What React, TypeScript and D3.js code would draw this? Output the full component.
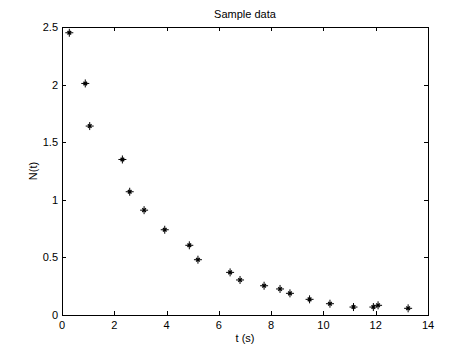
import React, { useEffect, useRef } from 'react';
import * as d3 from 'd3';

const tValues = [0.28, 0.89, 1.06, 2.31, 2.59, 3.14, 3.93, 4.87, 5.2, 6.43, 6.81, 7.73, 8.34, 8.72, 9.47, 10.25, 11.15, 11.91, 12.09, 13.24];
const nValues = [2.45, 2.01, 1.64, 1.35, 1.07, 0.91, 0.74, 0.605, 0.48, 0.37, 0.304, 0.254, 0.226, 0.188, 0.136, 0.098, 0.069, 0.069, 0.084, 0.058];
const xTicks = [0, 2, 4, 6, 8, 10, 12, 14];
const yTicks = [0, 0.5, 1, 1.5, 2, 2.5];

const App = () => {
  const svgRef = useRef<SVGSVGElement>(null);

  useEffect(() => {
    if (!svgRef.current) return;
    d3.select(svgRef.current).selectAll('*').remove();

    const width = 474;
    const height = 354;
    const left = 62, right = 428, top = 27, bottom = 315;
    const font = 'Arial, "Liberation Sans", sans-serif';

    const svg = d3.select(svgRef.current)
      .attr('width', width)
      .attr('height', height);

    svg.append('rect').attr('width', width).attr('height', height).attr('fill', '#ffffff');

    const x = d3.scaleLinear().domain([0, 14]).range([left, right]);
    const y = d3.scaleLinear().domain([0, 2.5]).range([bottom, top]);

    // box
    svg.append('rect')
      .attr('x', left).attr('y', top)
      .attr('width', right - left).attr('height', bottom - top)
      .attr('fill', 'none').attr('stroke', '#000').attr('stroke-width', 1)
      .attr('shape-rendering', 'crispEdges');

    const tickLen = 4;
    // x ticks (inward, bottom and top)
    xTicks.forEach(t => {
      const px = Math.round(x(t)) + 0.5;
      svg.append('line').attr('x1', px).attr('x2', px).attr('y1', bottom).attr('y2', bottom - tickLen)
        .attr('stroke', '#000').attr('shape-rendering', 'crispEdges');
      svg.append('line').attr('x1', px).attr('x2', px).attr('y1', top).attr('y2', top + tickLen)
        .attr('stroke', '#000').attr('shape-rendering', 'crispEdges');
      svg.append('text')
        .attr('x', x(t)).attr('y', bottom + 14)
        .attr('text-anchor', 'middle')
        .attr('font-family', font).attr('font-size', 11).attr('fill', '#000')
        .text(String(t));
    });

    // y ticks (inward, left and right)
    yTicks.forEach(v => {
      const py = Math.round(y(v)) + 0.5;
      svg.append('line').attr('x1', left).attr('x2', left + tickLen).attr('y1', py).attr('y2', py)
        .attr('stroke', '#000').attr('shape-rendering', 'crispEdges');
      svg.append('line').attr('x1', right).attr('x2', right - tickLen).attr('y1', py).attr('y2', py)
        .attr('stroke', '#000').attr('shape-rendering', 'crispEdges');
      svg.append('text')
        .attr('x', left - 4).attr('y', y(v) + 4)
        .attr('text-anchor', 'end')
        .attr('font-family', font).attr('font-size', 11).attr('fill', '#000')
        .text(String(v));
    });

    // star markers (MATLAB '*': plus with short diagonals)
    const s = 4;
    const d = 1.8;
    const marks = svg.append('g');
    tValues.forEach((t, i) => {
      const cx = x(t), cy = y(nValues[i]);
      const g = marks.append('g').attr('transform', `translate(${cx},${cy})`)
        .attr('stroke', '#000').attr('stroke-width', 1);
      g.append('line').attr('x1', -s).attr('x2', s).attr('y1', 0).attr('y2', 0);
      g.append('line').attr('x1', 0).attr('x2', 0).attr('y1', -s).attr('y2', s);
      g.append('line').attr('x1', -d).attr('x2', d).attr('y1', -d).attr('y2', d).attr('stroke-width', 1.4);
      g.append('line').attr('x1', -d).attr('x2', d).attr('y1', d).attr('y2', -d).attr('stroke-width', 1.4);
    });

    // title and labels
    svg.append('text')
      .attr('x', (left + right) / 2).attr('y', 18)
      .attr('text-anchor', 'middle')
      .attr('font-family', font).attr('font-size', 11).attr('fill', '#000')
      .text('Sample data');

    svg.append('text')
      .attr('x', (left + right) / 2).attr('y', 342)
      .attr('text-anchor', 'middle')
      .attr('font-family', font).attr('font-size', 11).attr('fill', '#000')
      .text('t (s)');

    svg.append('text')
      .attr('transform', `translate(37, ${(top + bottom) / 2}) rotate(-90)`)
      .attr('text-anchor', 'middle')
      .attr('font-family', font).attr('font-size', 11).attr('fill', '#000')
      .text('N(t)');
  }, []);

  return (
    <div style={{ position: 'absolute', left: 0, top: 0 }}>
      <svg ref={svgRef}></svg>
    </div>
  );
};

export default App;
